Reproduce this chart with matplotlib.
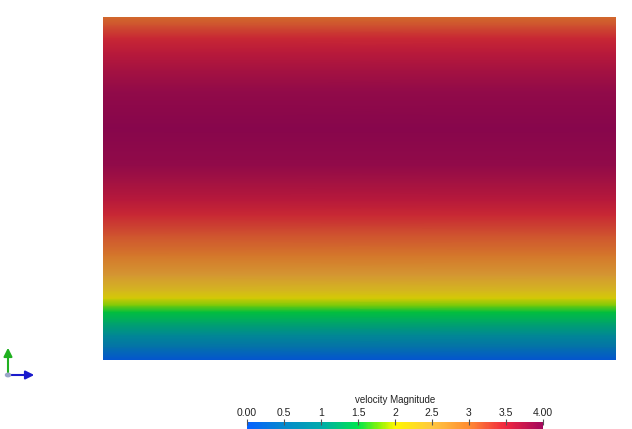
import numpy as np
import matplotlib
matplotlib.use('Agg')
import matplotlib.pyplot as plt
from matplotlib.colors import LinearSegmentedColormap, Normalize
from matplotlib.cm import ScalarMappable

# velocity profile across the channel (height fraction -> magnitude)
heights = [0.0, 0.038, 0.073, 0.111, 0.140, 0.160, 0.181, 0.204, 0.248, 0.306,
           0.364, 0.423, 0.466, 0.519, 0.569, 0.676, 0.781, 0.845, 0.898, 0.939,
           0.977, 1.0]
velocity = [0.05, 0.5, 0.9, 1.25, 1.5, 1.8, 2.05, 2.3, 2.65, 2.98,
            3.2, 3.45, 3.62, 3.78, 3.92, 4.0, 3.92, 3.75, 3.6, 3.45,
            3.2, 3.05]
vmin, vmax = 0.0, 4.0
tick_vals = [0, 0.5, 1, 1.5, 2, 2.5, 3, 3.5, 4]
tick_labels = ['0.00', '0.5', '1', '1.5', '2', '2.5', '3', '3.5', '4.00']

# rainbow uniform style colormap
anchors = [
    (0.0, (0.02, 0.38, 1.0)),
    (0.125, (0.02, 0.54, 0.80)),
    (0.25, (0.0, 0.67, 0.67)),
    (0.375, (0.0, 0.90, 0.30)),
    (0.44, (0.50, 0.95, 0.05)),
    (0.5, (1.0, 0.97, 0.0)),
    (0.625, (1.0, 0.78, 0.25)),
    (0.75, (1.0, 0.55, 0.20)),
    (0.875, (0.94, 0.15, 0.25)),
    (1.0, (0.64, 0.03, 0.36)),
]
cmap = LinearSegmentedColormap.from_list('rainbow_u', anchors)
# surface is lit, so it looks a bit darker than the legend
shade = 0.83
cmap_lit = LinearSegmentedColormap.from_list(
    'rainbow_lit', [(p, tuple(c * shade for c in col)) for p, col in anchors])

fig = plt.figure(figsize=(6.32, 4.29), dpi=100)

ax = fig.add_axes([103 / 632, 1 - 360 / 429, 513 / 632, 343 / 429])
h = np.array(heights)
v = np.array(velocity)
X = np.column_stack([np.zeros_like(h), np.ones_like(h)])
Y = np.column_stack([h, h])
C = np.column_stack([v, v])
ax.pcolormesh(X, Y, C, cmap=cmap_lit, vmin=vmin, vmax=vmax, shading='gouraud')
ax.set_xlim(0, 1)
ax.set_ylim(0, 1)
ax.axis('off')

# colour legend
font = ['Liberation Sans Narrow', 'Liberation Sans', 'DejaVu Sans']
cax = fig.add_axes([247 / 632, 0, 296 / 632, 7 / 429])
sm = ScalarMappable(norm=Normalize(vmin, vmax), cmap=cmap)
cb = fig.colorbar(sm, cax=cax, orientation='horizontal', ticks=tick_vals)
cb.outline.set_visible(False)
cax.xaxis.set_ticks_position('top')
cax.set_xticklabels(tick_labels)
cax.tick_params(axis='x', direction='inout', length=5, width=0.8, color='#555555',
                labelsize=7.5, pad=0.5, labelcolor='#222222')
for lbl in cax.get_xticklabels():
    lbl.set_family(font)
fig.text(395 / 632, 1 - 400 / 429, 'velocity Magnitude', ha='center', va='center',
         fontsize=7, family='Liberation Sans', color='#222222')

# orientation triad
ox, oy = 8 / 632, 1 - 375 / 429
fig.add_artist(matplotlib.patches.FancyArrowPatch(
    (ox, oy), (ox, 1 - 345 / 429), transform=fig.transFigure,
    arrowstyle='-|>,head_length=5,head_width=2.5', color='#20b020', lw=1.5))
fig.add_artist(matplotlib.patches.FancyArrowPatch(
    (ox, oy), (37 / 632, oy), transform=fig.transFigure,
    arrowstyle='-|>,head_length=5,head_width=2.5', color='#1a1acc', lw=1.5))
fig.add_artist(matplotlib.patches.Circle((ox, oy), 0.004, transform=fig.transFigure,
                                         color='#9aa6c8'))

fig.savefig('out.png', dpi=100)
